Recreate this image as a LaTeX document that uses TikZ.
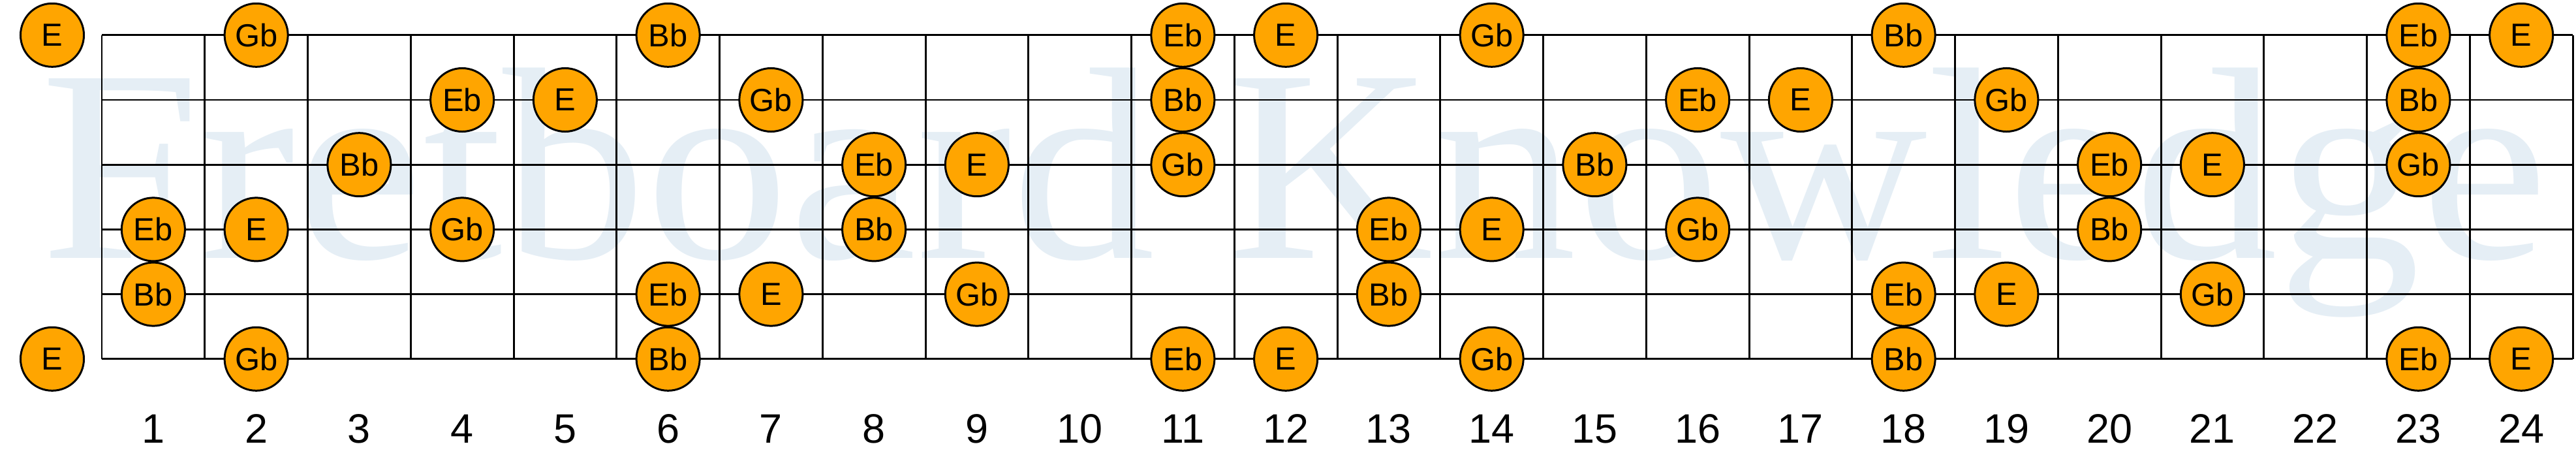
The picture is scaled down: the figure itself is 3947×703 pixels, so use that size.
\documentclass[tikz,border=0pt]{standalone}
\usepackage{fontspec}
\setmainfont{Liberation Sans}
\newfontfamily\wmfont{Liberation Serif}
\definecolor{noteorange}{HTML}{FFA500}
\definecolor{wmblue}{HTML}{E5EEF5}
\begin{document}
\begin{tikzpicture}[x=0.01cm,y=-0.01cm,
  gridline/.style={line width=0.85pt, draw=black},
  note/.style={circle, draw=black, line width=0.85pt, fill=noteorange, minimum size=0.97cm, inner sep=0pt, font=\fontsize{13.9}{14}\selectfont},
  fretnum/.style={inner sep=0pt, font=\fontsize{17.9}{18}\selectfont}]
\useasboundingbox (0,0) rectangle (3947,703);
\node[anchor=base west, inner sep=0pt, xscale=1.045, text=wmblue, font=\wmfont\fontsize{119.5}{120}\selectfont] (wm) at (62,395) {Fretboard Knowledge};
% strings
\foreach \s in {1,...,6}
  \draw[gridline] (156,{53.8+99.2*(\s-1)}) coordinate (sL\s) -- (3942,{53.8+99.2*(\s-1)}) coordinate (sR\s);
% frets
\foreach \f in {0,...,24}
  \draw[gridline] ({156+157.75*\f},53.8) coordinate (fT\f) -- ({156+157.75*\f},549.8) coordinate (fB\f);
% notes
\foreach \s/\f/\n in {
  1/0/E,1/2/Gb,1/6/Bb,1/11/Eb,1/12/E,1/14/Gb,1/18/Bb,1/23/Eb,1/24/E,
  2/4/Eb,2/5/E,2/7/Gb,2/11/Bb,2/16/Eb,2/17/E,2/19/Gb,2/23/Bb,
  3/3/Bb,3/8/Eb,3/9/E,3/11/Gb,3/15/Bb,3/20/Eb,3/21/E,3/23/Gb,
  4/1/Eb,4/2/E,4/4/Gb,4/8/Bb,4/13/Eb,4/14/E,4/16/Gb,4/20/Bb,
  5/1/Bb,5/6/Eb,5/7/E,5/9/Gb,5/13/Bb,5/18/Eb,5/19/E,5/21/Gb,
  6/0/E,6/2/Gb,6/6/Bb,6/11/Eb,6/12/E,6/14/Gb,6/18/Bb,6/23/Eb,6/24/E}
  \node[note] (n\s-\f) at ({ifthenelse(\f==0,80,156+157.75*(\f-0.5))},{53.8+99.2*(\s-1)}) {\n};
% fret numbers
\foreach \f in {1,...,24}
  \node[fretnum] (fn\f) at ({156+157.75*(\f-0.5)},657) {\f};
\end{tikzpicture}
\end{document}
